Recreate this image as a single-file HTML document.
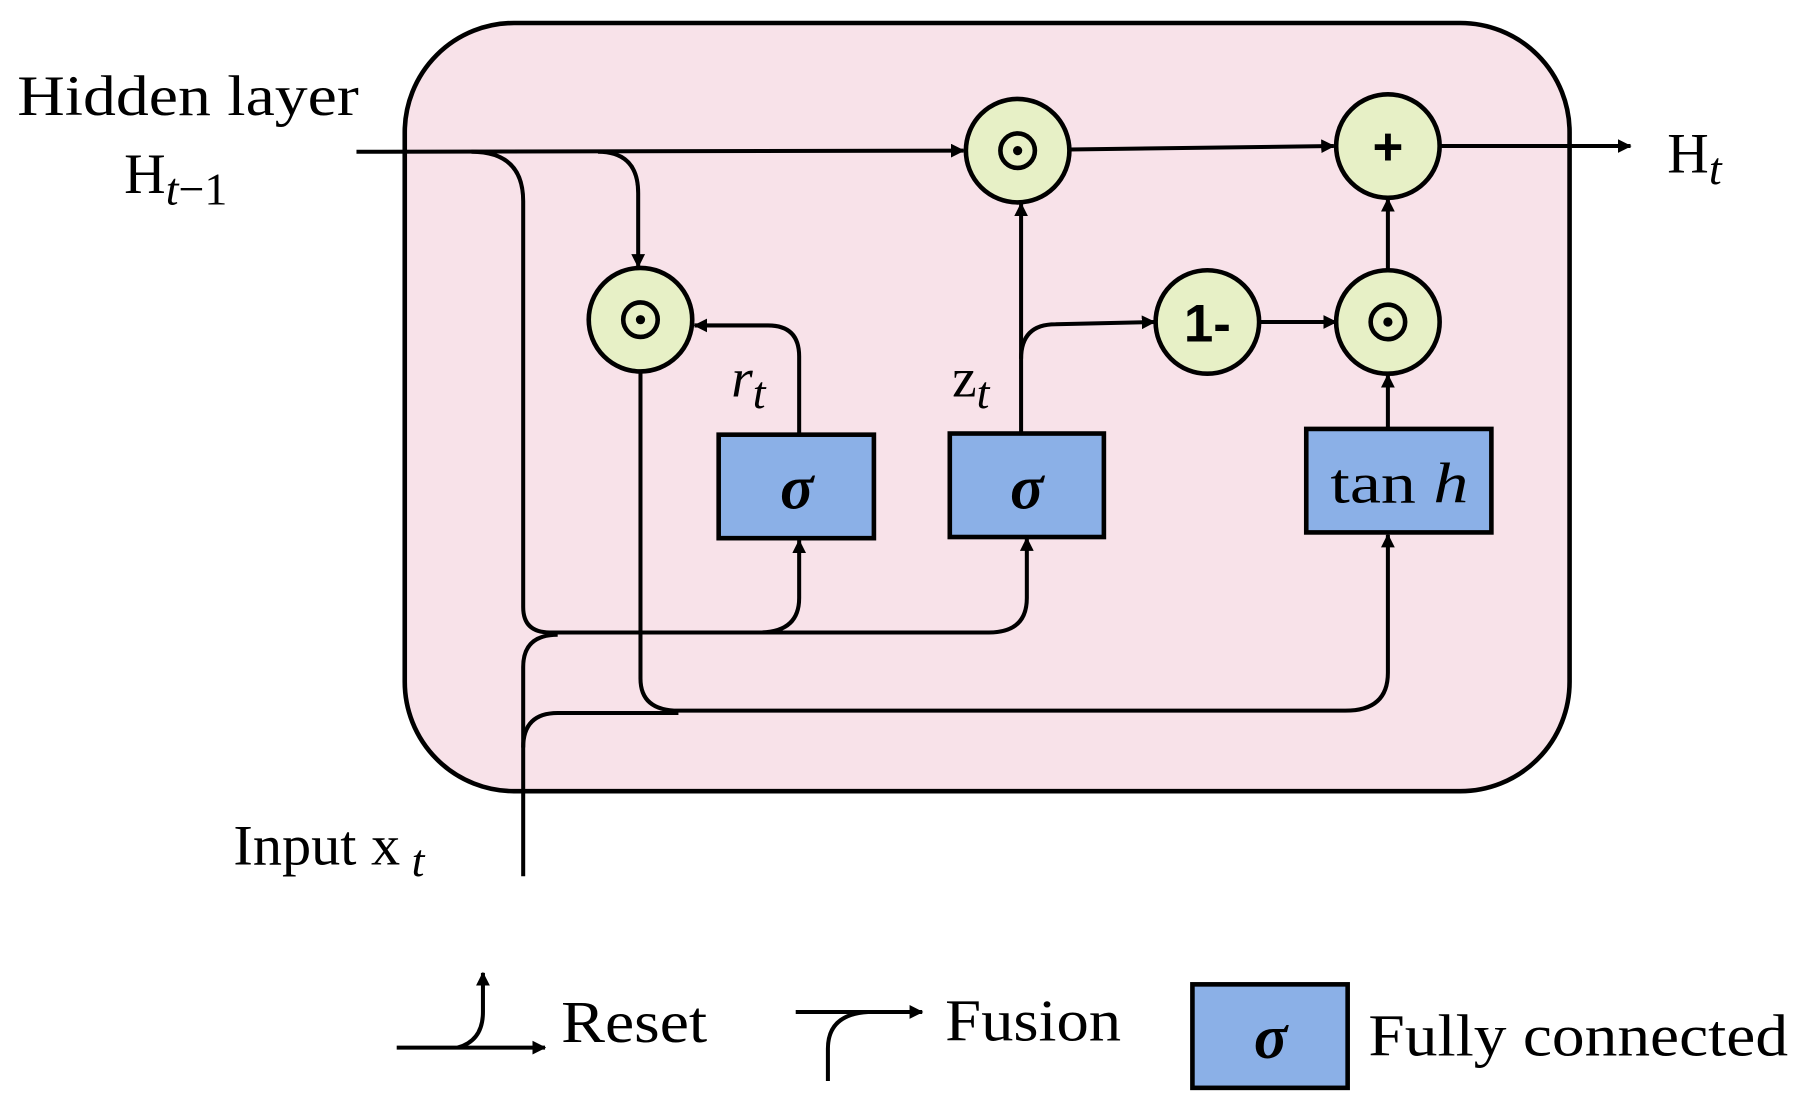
<!DOCTYPE html>
<html><head><meta charset="utf-8"><style>html,body{margin:0;padding:0;background:#fff}svg{display:block}</style></head>
<body>
<svg width="1803" height="1112" viewBox="0 0 1568 967" preserveAspectRatio="none" xmlns="http://www.w3.org/2000/svg">
<defs>
<marker id="a" markerWidth="12" markerHeight="12" refX="11" refY="6" orient="auto" markerUnits="userSpaceOnUse"><path d="M0,0 L12,6 L0,12 z" fill="#000"/></marker>
</defs>
<rect x="352" y="20" width="1013" height="668" rx="95" fill="#f8e2e9" stroke="#000" stroke-width="4"/>
<g font-family="Liberation Serif, serif" fill="#000">
<text x="15" y="100" font-size="50" textLength="297" lengthAdjust="spacingAndGlyphs">Hidden layer</text>
<text x="108" y="168" font-size="50">H<tspan font-style="italic" font-size="40" dy="10">t</tspan><tspan font-size="40">−1</tspan></text>
<text x="1450" y="150" font-size="50">H<tspan font-style="italic" font-size="40" dy="10">t</tspan></text>
<text x="203" y="752" font-size="50" textLength="145" lengthAdjust="spacingAndGlyphs">Input x</text>
<text x="358" y="762" font-size="40" font-style="italic">t</text>
<text x="636" y="345" font-size="48" font-style="italic">r<tspan font-size="40" dy="10">t</tspan></text>
<text x="828" y="345" font-size="48">z<tspan font-style="italic" font-size="40" dy="10">t</tspan></text>
<text x="488" y="906" font-size="52" textLength="127" lengthAdjust="spacingAndGlyphs">Reset</text>
<text x="822" y="905" font-size="52" textLength="153" lengthAdjust="spacingAndGlyphs">Fusion</text>
<text x="1190" y="918" font-size="52" textLength="365" lengthAdjust="spacingAndGlyphs">Fully connected</text>
</g>
<g fill="none" stroke="#000" stroke-width="3.5">
<path d="M310,132 L838,131" marker-end="url(#a)"/>
<path d="M930,130 L1160,127" marker-end="url(#a)"/>
<path d="M1253,127 L1418,127" marker-end="url(#a)"/>
<path d="M410,132 Q455,132 455,175 L455,528 Q455,550 478,550 L860,550 Q893,550 893,520 L893,468" marker-end="url(#a)"/>
<path d="M660,550 Q695,550 695,520 L695,470" marker-end="url(#a)"/>
<path d="M520,132 Q555,132 555,168 L555,232" marker-end="url(#a)"/>
<path d="M557,323 L557,590 Q557,618 590,618 L1170,618 Q1207,618 1207,585 L1207,465" marker-end="url(#a)"/>
<path d="M455,762 L455,580 Q455,552 485,552"/>
<path d="M455,650 Q455,620 485,620 L590,620"/>
<path d="M695,378 L695,310 Q695,283 668,283 L604,283" marker-end="url(#a)"/>
<path d="M888,377 L888,177" marker-end="url(#a)"/>
<path d="M888,312 Q888,282 918,282 L1004,280" marker-end="url(#a)"/>
<path d="M1095,280 L1162,280" marker-end="url(#a)"/>
<path d="M1207,373 L1207,326" marker-end="url(#a)"/>
<path d="M1207,235 L1207,173" marker-end="url(#a)"/>
<path d="M345,911 L474,911" marker-end="url(#a)"/>
<path d="M398,911 Q420,905 420,880 L420,846" marker-end="url(#a)"/>
<path d="M692,880 L802,880" marker-end="url(#a)"/>
<path d="M755,880 Q720,882 720,912 L720,940"/>
</g>
<g stroke="#000" stroke-width="4" fill="#e7f0c6">
<circle cx="885" cy="131" r="45"/><circle cx="1207" cy="127" r="45"/>
<circle cx="557" cy="278" r="45"/><circle cx="1050" cy="280" r="45"/><circle cx="1207" cy="280" r="45"/>
</g>
<g stroke="#000" stroke-width="4" fill="none">
<circle cx="885" cy="131" r="15"/><circle cx="557" cy="278" r="15"/><circle cx="1207" cy="280" r="15"/>
</g>
<g fill="#000"><circle cx="885" cy="131" r="4"/><circle cx="557" cy="278" r="4"/><circle cx="1207" cy="280" r="4"/></g>
<g font-family="Liberation Sans, sans-serif" font-weight="bold" text-anchor="middle">
<text x="1207" y="143" font-size="46">+</text>
<text x="1050" y="297" font-size="46">1-</text>
</g>
<g stroke="#000" stroke-width="4" fill="#8bb0e7">
<rect x="625" y="378" width="135" height="90"/>
<rect x="826" y="377" width="134" height="90"/>
<rect x="1136" y="373" width="161" height="90"/>
<rect x="1037" y="856" width="135" height="90"/>
</g>
<g font-family="Liberation Serif, serif" text-anchor="middle" fill="#000">
<text x="693" y="442" font-size="54" font-weight="bold" font-style="italic">σ</text>
<text x="893" y="442" font-size="54" font-weight="bold" font-style="italic">σ</text>
<text x="1105" y="920" font-size="54" font-weight="bold" font-style="italic">σ</text>
<text x="1217" y="437" font-size="50" textLength="120" lengthAdjust="spacingAndGlyphs">tan <tspan font-style="italic">h</tspan></text>
</g>
</svg>
</body></html>
